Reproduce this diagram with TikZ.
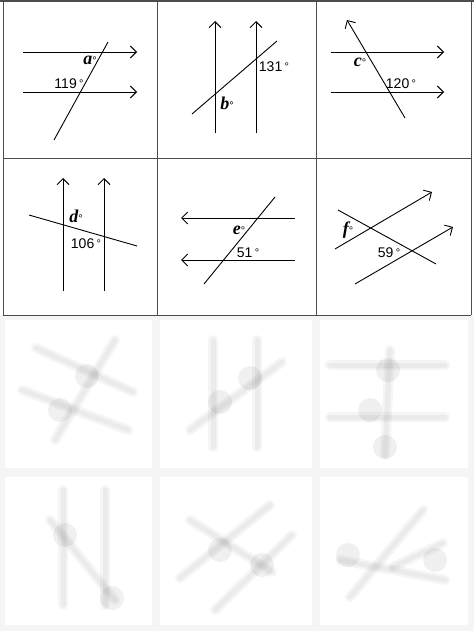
\documentclass[tikz,border=0pt]{standalone}
\usepackage{fontspec}
\setmainfont{Liberation Sans}
\newfontfamily\letterfont{Liberation Serif}
\usetikzlibrary{arrows.meta, positioning}

\newcommand{\dg}{\,\raisebox{1pt}{\fontsize{11}{11}\selectfont °}}
\newcommand{\var}[1]{{\letterfont\bfseries\itshape #1}{\fontsize{11}{11}\selectfont °}}

\tikzset{
  line/.style={line width=0.9pt},
  arrowline/.style={line, -{Straight Barb[length=6pt, width=12pt, line width=0.9pt]}},
  ang/.style={font=\fontsize{14}{14}\selectfont, inner sep=0pt},
  letter/.style={font=\fontsize{18}{18}\selectfont, inner sep=0pt},
  frame/.style={draw=black!70, line width=0.8pt},
  ghost/.style={draw=black, line width=10pt, opacity=0.04, line cap=round},
  ghostcore/.style={draw=black, line width=5pt, opacity=0.04, line cap=round},
  blob/.style={fill=black, opacity=0.06}
}

\begin{document}
\begin{tikzpicture}[x=1pt, y=-1pt]
  \useasboundingbox (0,0) rectangle (474,631);
  \fill[white] (0,0) rectangle (474,631);

  % blurred lower half
  \fill[black!4] (0,315) rectangle (474,631);
  \foreach \x/\w in {5/147, 160/152, 320/148}
    \foreach \y in {320, 477}
      \fill[white] (\x,\y) rectangle ++(\w,148);

  % grid of the upper half
  \draw[frame] (3,158.5) -- (471,158.5);
  \draw[frame] (3,315) -- (471,315);
  \foreach \x in {3, 157.5, 316.5, 471}
    \draw[frame] (\x,0) -- (\x,315);
  \draw[draw=black!70, line width=2pt] (0,1) -- (474,1);

  % cell a
  \coordinate (a1s) at (23,52);  \coordinate (a1e) at (137,52);
  \coordinate (a2s) at (23,92);  \coordinate (a2e) at (137,92);
  \coordinate (at1) at (54,140); \coordinate (at2) at (108,42);
  \draw[arrowline] (a1s) -- (a1e);
  \draw[arrowline] (a2s) -- (a2e);
  \draw[line] (at1) -- (at2);
  \node[letter] (la) at (90,60) {\var{a}};
  \node[ang] (l119) at (69,84) {119\dg};

  % cell b
  \coordinate (b1s) at (215,133); \coordinate (b1e) at (215,21);
  \coordinate (b2s) at (256,133); \coordinate (b2e) at (256,21);
  \coordinate (bt1) at (192,114); \coordinate (bt2) at (277,41);
  \draw[arrowline] (b1s) -- (b1e);
  \draw[arrowline] (b2s) -- (b2e);
  \draw[line] (bt1) -- (bt2);
  \node[letter] (lb) at (227,103) {\var{b}};
  \node[ang] (l131) at (274,67) {131\dg};

  % cell c
  \coordinate (c1s) at (331,52);  \coordinate (c1e) at (444,52);
  \coordinate (c2s) at (331,92);  \coordinate (c2e) at (444,92);
  \coordinate (ct1) at (405,118); \coordinate (ct2) at (347,20);
  \draw[arrowline] (c1s) -- (c1e);
  \draw[arrowline] (c2s) -- (c2e);
  \draw[arrowline] (ct1) -- (ct2);
  \node[letter] (lc) at (360,62) {\var{c}};
  \node[ang] (l120) at (401,84) {120\dg};

  % cell d
  \coordinate (d1s) at (63,291);  \coordinate (d1e) at (63,178);
  \coordinate (d2s) at (104,291); \coordinate (d2e) at (104,178);
  \coordinate (dt1) at (29,215);  \coordinate (dt2) at (137,246);
  \draw[arrowline] (d1s) -- (d1e);
  \draw[arrowline] (d2s) -- (d2e);
  \draw[line] (dt1) -- (dt2);
  \node[letter] (ld) at (76,216) {\var{d}};
  \node[ang] (l106) at (86,244) {106\dg};

  % cell e
  \coordinate (e1s) at (295,218); \coordinate (e1e) at (181,218);
  \coordinate (e2s) at (295,260); \coordinate (e2e) at (181,260);
  \coordinate (et1) at (204,284); \coordinate (et2) at (275,197);
  \draw[arrowline] (e1s) -- (e1e);
  \draw[arrowline] (e2s) -- (e2e);
  \draw[line] (et1) -- (et2);
  \node[letter] (le) at (239,230) {\var{e}};
  \node[ang] (l51) at (248,253) {51\dg};

  % cell f
  \coordinate (ft1) at (338,210);   \coordinate (ft2) at (436,264);
  \coordinate (f1s) at (335,249);   \coordinate (f1e) at (432,192);
  \coordinate (f2s) at (355,284);   \coordinate (f2e) at (453,227);
  \draw[line] (ft1) -- (ft2);
  \draw[arrowline] (f1s) -- (f1e);
  \draw[arrowline] (f2s) -- (f2e);
  \node[letter] (lf) at (348,230) {\var{f}};
  \node[ang] (l59) at (389,253) {59\dg};

  % faint shapes of the blurred lower half
  \foreach \p/\q in {{36,348}/{133,392}, {22,390}/{128,430}, {55,440}/{115,340},
                     {213,340}/{213,447}, {257,340}/{257,447}, {190,430}/{282,362},
                     {330,365}/{445,365}, {330,417}/{445,417}, {390,350}/{385,455},
                     {63,490}/{63,605}, {105,490}/{105,605}, {50,520}/{115,600},
                     {180,578}/{270,505}, {215,610}/{292,535}, {190,520}/{272,572},
                     {350,597}/{423,510}, {393,567}/{443,543}, {340,560}/{445,580}} {
    \draw[ghost] (\p) -- (\q);
    \draw[ghostcore] (\p) -- (\q);
  }
  \foreach \c in {{87,376}, {60,410}, {220,402}, {250,378}, {388,370}, {370,410},
                  {385,447}, {65,535}, {112,598}, {220,550}, {262,565}, {348,555}, {435,560}}
    \fill[blob] (\c) circle (12);
\end{tikzpicture}
\end{document}
